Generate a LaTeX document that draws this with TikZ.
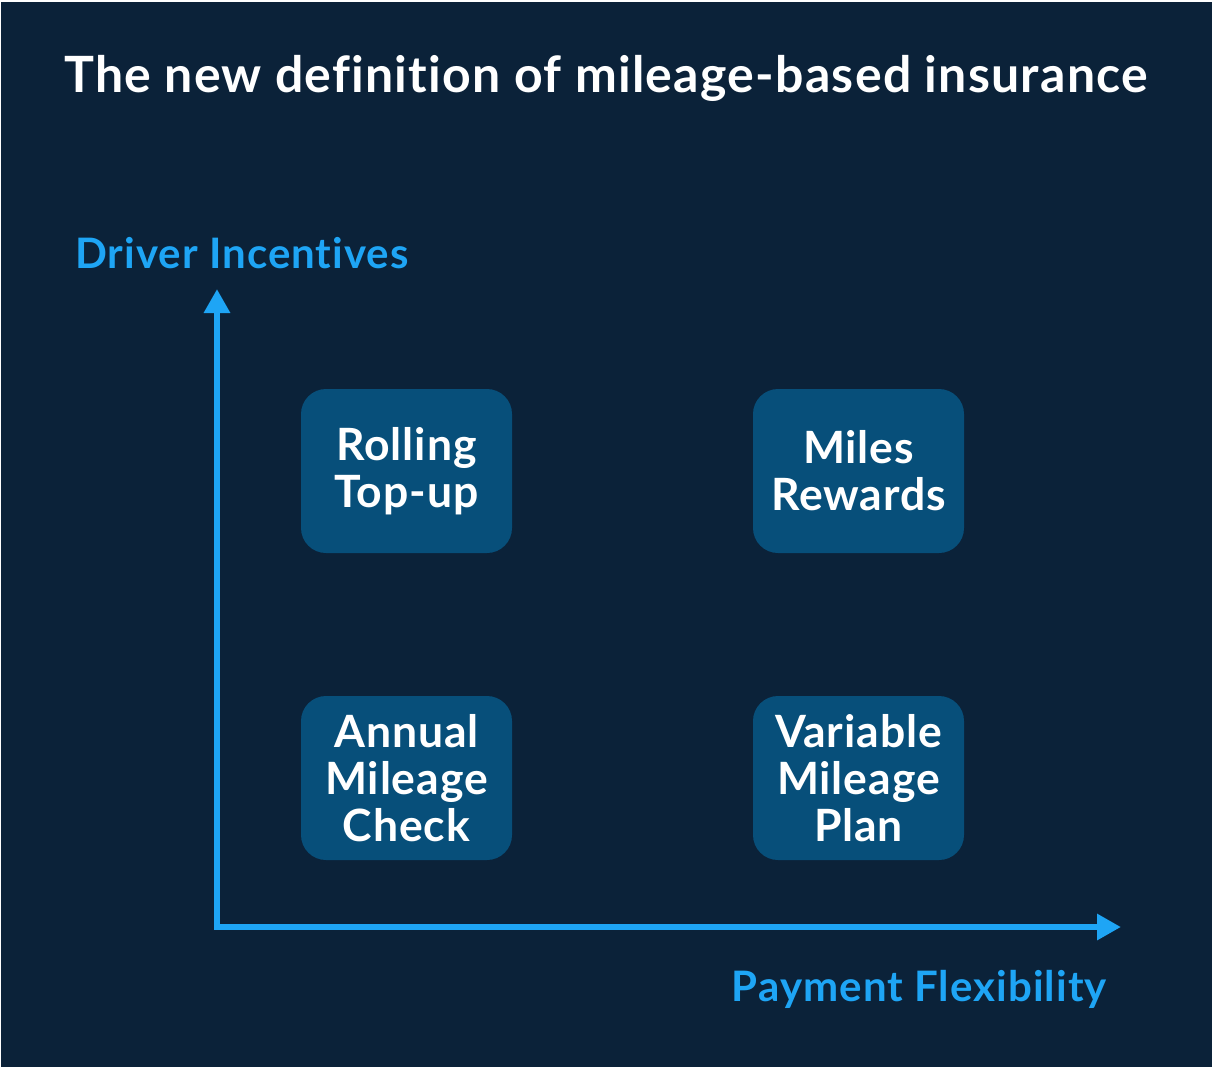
\documentclass[tikz,border=0pt]{standalone}
\usepackage{fontspec}
\setmainfont{Lato}[Ligatures=NoCommon]
\usepackage{xcolor}
\usetikzlibrary{arrows.meta, positioning}

\definecolor{bgnavy}{HTML}{0B2239}
\definecolor{boxblue}{HTML}{074F7A}
\definecolor{axisblue}{HTML}{1EA5F5}

\begin{document}
\begin{tikzpicture}[x=1pt, y=-1pt,
			plan/.style={rectangle, rounded corners=25pt, fill=boxblue, text=white,
				minimum width=211pt, minimum height=164pt, align=center, inner sep=0pt,
				font=\fontsize{44.5}{47}\selectfont\bfseries\addfontfeature{LetterSpace=2}},
			axislabel/.style={text=axisblue, inner sep=0pt,
				font=\fontsize{42}{48}\selectfont\bfseries\addfontfeature{LetterSpace=2.5}},
			axis/.style={draw=axisblue, line width=6pt, -{Triangle[length=24pt, width=25pt]}}
			]
			% background
			\fill[white] (0,0) rectangle (1214,1069);
			\fill[bgnavy] (1,2) rectangle (1212,1067);
			\useasboundingbox (0,0) rectangle (1214,1069);
			
			\node[text=white, font=\fontsize{50}{56}\selectfont\bfseries\addfontfeature{LetterSpace=2.5}, anchor=base] (title) at (606,92) {The new definition of mileage-based insurance};
			
			% axes
			\coordinate (origin) at (217,927);
			\coordinate (ytip) at (217,289);
			\coordinate (xtip) at (1121,927);
			\draw[axis] ([yshift=3pt]origin) -- (ytip);
			\draw[axis] ([xshift=-3pt]origin) -- (xtip);
			\node[axislabel, anchor=base west] (ylab) at (75,268) {Driver Incentives};
			\node[axislabel, anchor=base east] (xlab) at (1107,1001) {Payment Flexibility};
			
			% quadrants
			\node[plan] (rolling) at (406.5,471) {Rolling\\Top-up};
			\node[plan] (miles) at (858.5,471) {Miles\\Rewards};
			\node[plan] (annual) at (406.5,778) {Annual\\Mileage\\Check};
			\node[plan] (variable) at (858.5,778) {Variable\\Mileage\\Plan};
		\end{tikzpicture}
\end{document}
